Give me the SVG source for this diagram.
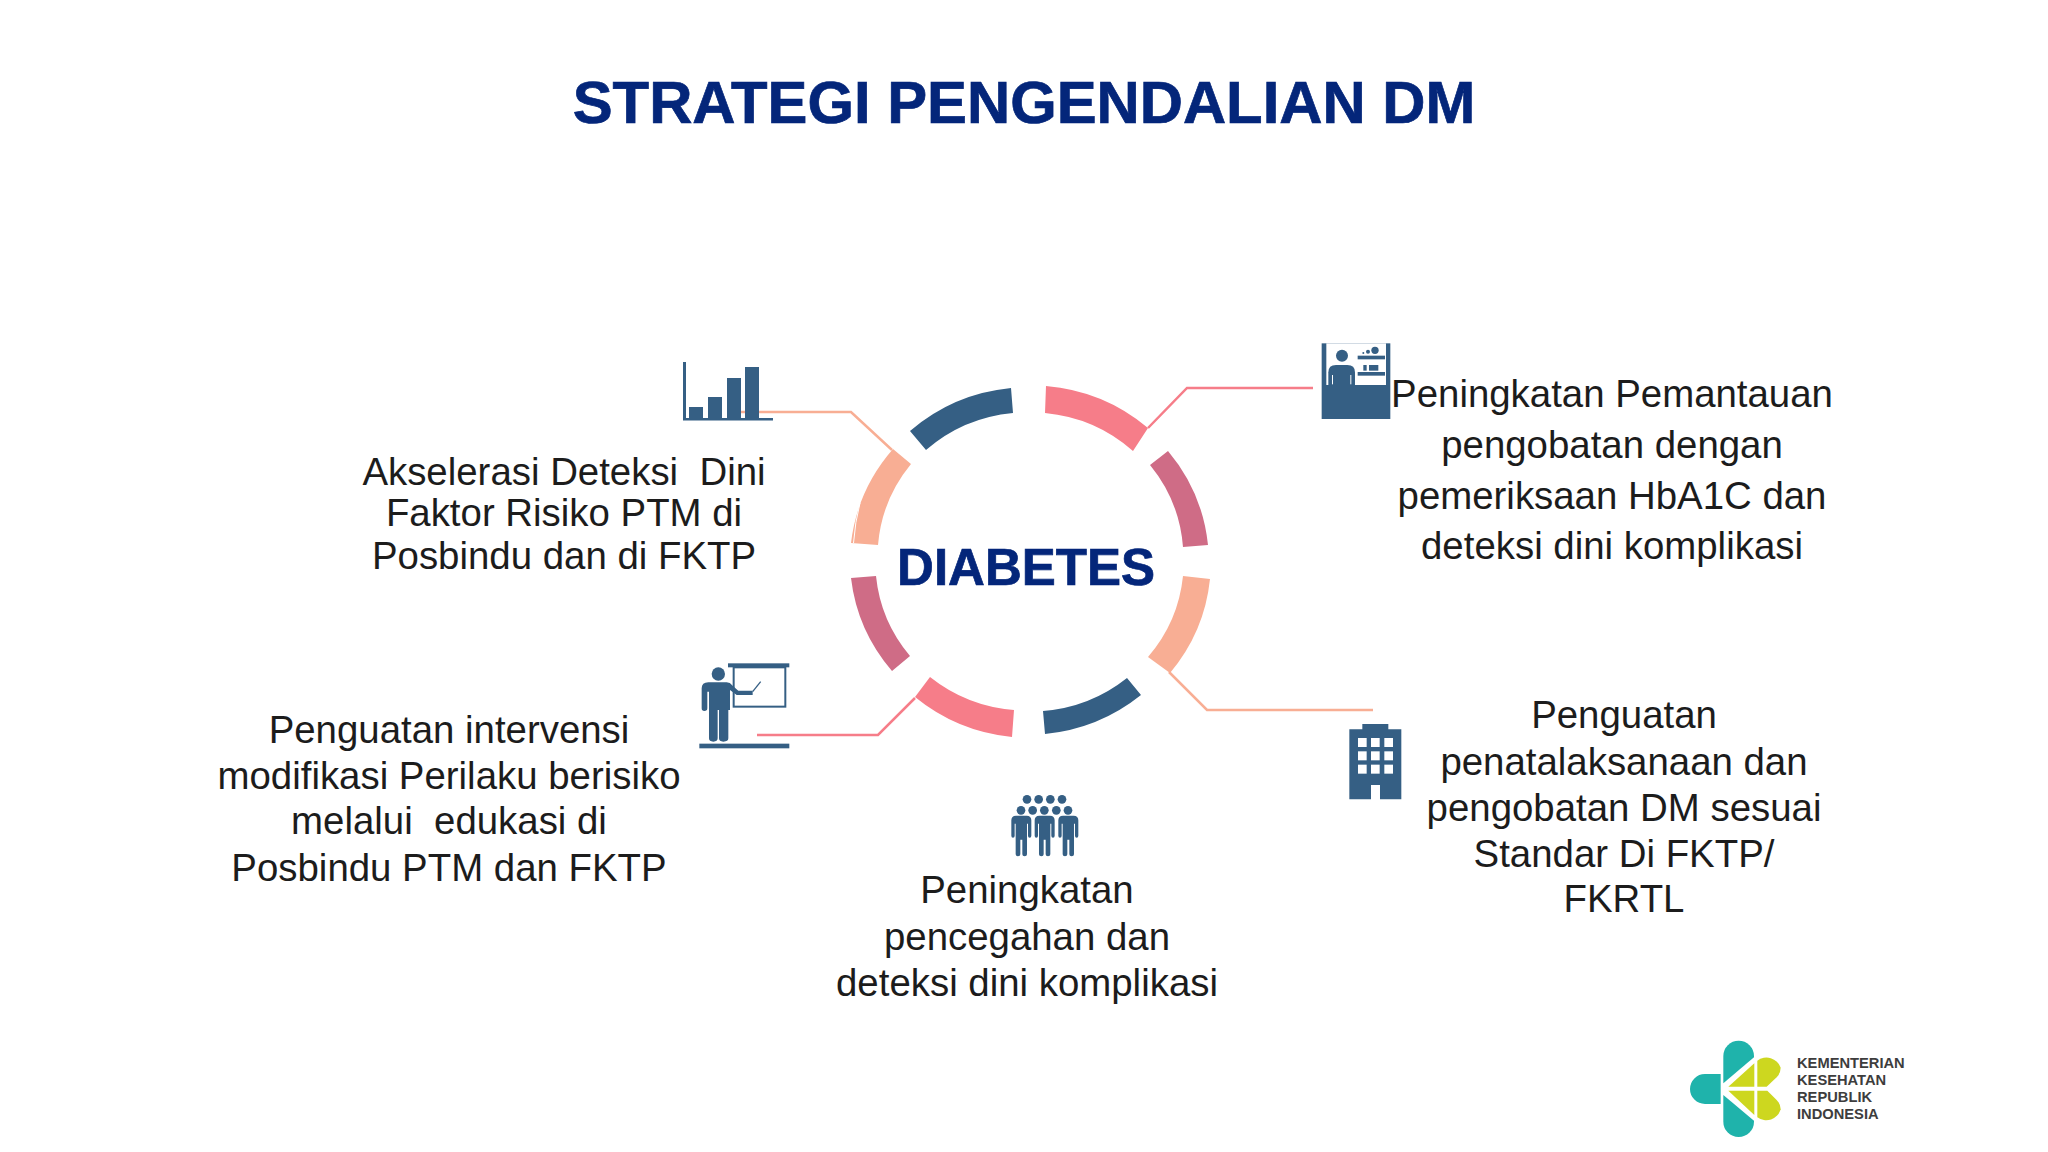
<svg xmlns="http://www.w3.org/2000/svg" width="2048" height="1152" viewBox="0 0 2048 1152">
<style>
.t{font-family:"Liberation Sans",Arial,sans-serif;font-size:38.4px;fill:#1c1c1c;text-anchor:middle;white-space:pre}
.h{font-family:"Liberation Sans",Arial,sans-serif;font-weight:700;fill:#04267a;stroke:#04267a;stroke-width:.7;text-anchor:middle}
.lg{font-family:"Liberation Sans",Arial,sans-serif;font-weight:700;font-size:14.7px;fill:#3d3d3d}
.c{fill:none;stroke-width:2.5;stroke-linejoin:miter}
.i{fill:#355f84}
.w{fill:#fff}
.navy{fill:#355f84}.pink{fill:#f67d89}.rose{fill:#cf6c86}.peach{fill:#f8ae94}
.teal{fill:#1fb3ab}.yel{fill:#cdd71f}
</style>
<defs>
<g id="man"><path d="M-30,30 Q-30,16 -16,16 H16 Q30,16 30,30 V76 Q30,82 25,82 Q20,82 20,76 V40 H17 V132 Q17,138 10,138 Q3,138 3,132 V88 H-3 V132 Q-3,138 -10,138 Q-17,138 -17,132 V40 H-20 V76 Q-20,82 -25,82 Q-30,82 -30,76 Z"/></g>
</defs>
<rect width="2048" height="1152" fill="#fff"/>
<text class="h" x="1024" y="123" font-size="59.8">STRATEGI PENGENDALIAN DM</text>

<g id="connectors">
<path class="c" stroke="#f8ae94" d="M740,412 H851 L892,450"/>
<path class="c" stroke="#f67d89" d="M1313,388 H1187 L1148,428"/>
<path class="c" stroke="#f8ae94" d="M1373,710 H1207 L1169,672"/>
<path class="c" stroke="#f67d89" d="M757,735 H878 L915,698"/>
</g>

<g id="node-ring">
<path class="navy" d="M910,431 A180,176 0 0 1 1011,388 L1013,413 A153,149 0 0 0 926,450 Z"/>
<path class="pink" d="M1046,386 A180,176 0 0 1 1148,428 L1133,451 A153,149 0 0 0 1045,413 Z"/>
<path class="rose" d="M1168,451 A180,176 0 0 1 1208,545 L1183,547 A153,149 0 0 0 1150,465 Z"/>
<path class="peach" d="M1210,579 A180,176 0 0 1 1170,673 L1148,657 A153,149 0 0 0 1183,576 Z"/>
<path class="navy" d="M1141,695 A180,176 0 0 1 1045,734 L1043,711 A153,149 0 0 0 1127,678 Z"/>
<path class="pink" d="M1012,737 A180,176 0 0 1 915,697 L930,677 A153,149 0 0 0 1014,710 Z"/>
<path class="rose" d="M892,671 A180,176 0 0 1 851,578 L876,576 A153,149 0 0 0 910,656 Z"/>
<path class="peach" d="M851,543 A180,176 0 0 1 893,449 L911,464 A153,149 0 0 0 878,545 Z"/>
<path d="M853.5,543 Q855,522 860,503" fill="none" stroke="#fff" stroke-width="1"/>
<text class="h" x="1026" y="585" font-size="51">DIABETES</text>
</g>

<g id="node-deteksi">
<g class="i">
<rect x="683" y="362" width="3" height="58"/><rect x="683" y="418" width="90" height="2.5"/>
<rect x="689" y="407" width="14" height="12"/><rect x="708" y="397" width="14" height="22"/>
<rect x="727" y="378" width="14" height="41"/><rect x="745" y="367" width="14" height="52"/>
</g>
<text class="t" x="564" y="485">Akselerasi Deteksi  Dini</text>
<text class="t" x="564" y="526">Faktor Risiko PTM di</text>
<text class="t" x="564" y="569">Posbindu dan di FKTP</text>
</g>

<g id="node-pemantauan">
<g transform="translate(1310,335) scale(.3333)">
<rect class="i" x="35" y="25" width="206" height="227"/>
<rect class="w" x="49" y="25" width="179" height="125"/>
<circle class="i" cx="96" cy="62" r="18"/>
<path class="i" d="M55,150 V112 Q55,90 78,90 H112 Q135,90 135,112 V150 Z"/>
<rect class="w" x="66" y="120" width="3" height="28"/><rect class="w" x="121" y="120" width="3" height="28"/>
<rect class="i" x="143" y="62" width="82" height="11"/><rect class="i" x="143" y="111" width="82" height="11"/>
<circle class="i" cx="195" cy="46" r="11"/><circle class="i" cx="174" cy="50" r="6"/><circle class="i" cx="160" cy="54" r="3"/>
<rect class="i" x="160" y="90" width="10" height="17"/><rect class="i" x="177" y="90" width="28" height="17"/>
</g>
<text class="t" x="1612" y="407">Peningkatan Pemantauan</text>
<text class="t" x="1612" y="458">pengobatan dengan</text>
<text class="t" x="1612" y="509">pemeriksaan HbA1C dan</text>
<text class="t" x="1612" y="559">deteksi dini komplikasi</text>
</g>

<g id="node-penatalaksanaan">
<g transform="translate(1340,700) scale(.3333)">
<path class="i" d="M28,88 H67 V72 H145 V88 H184 V298 H120 V255 H93 V298 H28 Z"/>
<g class="w">
<rect x="54" y="114" width="26" height="27"/><rect x="93" y="114" width="26" height="27"/><rect x="133" y="114" width="26" height="27"/>
<rect x="54" y="154" width="26" height="27"/><rect x="93" y="154" width="26" height="27"/><rect x="133" y="154" width="26" height="27"/>
<rect x="54" y="194" width="26" height="27"/><rect x="93" y="194" width="26" height="27"/><rect x="133" y="194" width="26" height="27"/>
</g>
</g>
<text class="t" x="1624" y="728">Penguatan</text>
<text class="t" x="1624" y="775">penatalaksanaan dan</text>
<text class="t" x="1624" y="821">pengobatan DM sesuai</text>
<text class="t" x="1624" y="867">Standar Di FKTP/</text>
<text class="t" x="1624" y="912">FKRTL</text>
</g>

<g id="node-pencegahan">
<g transform="translate(990,780) scale(.3333)" class="i">
<circle cx="111" cy="58" r="13"/><circle cx="146" cy="58" r="13"/><circle cx="181" cy="58" r="13"/><circle cx="216" cy="58" r="13"/>
<circle cx="93" cy="91" r="13"/><circle cx="128" cy="91" r="13"/><circle cx="163" cy="91" r="13"/><circle cx="199" cy="91" r="13"/><circle cx="234" cy="91" r="13"/>
<use href="#man" x="94" y="91"/><use href="#man" x="164" y="91"/><use href="#man" x="235" y="91"/>
</g>
<text class="t" x="1027" y="903">Peningkatan</text>
<text class="t" x="1027" y="950">pencegahan dan</text>
<text class="t" x="1027" y="996">deteksi dini komplikasi</text>
</g>

<g id="node-edukasi">
<g transform="translate(680,650) scale(.3333)">
<rect class="i" x="144" y="40" width="184" height="12"/>
<rect x="161" y="52" width="155" height="118" fill="none" stroke="#355f84" stroke-width="6"/>
<circle class="i" cx="115" cy="72" r="20"/>
<path class="i" d="M65,115 Q65,97 85,97 H140 Q150,97 158,107 L175,122 H218 V135 H170 L150,120 V180 H145 V265 Q145,275 130,275 Q117,275 117,265 V180 H113 V265 Q113,275 100,275 Q87,275 87,265 V125 H82 V175 Q82,183 73,183 Q65,183 65,175 Z"/>
<path d="M218,125 L242,95" stroke="#355f84" stroke-width="4" fill="none"/>
<rect class="i" x="58" y="281" width="270" height="14"/>
</g>
<text class="t" x="449" y="743">Penguatan intervensi</text>
<text class="t" x="449" y="789">modifikasi Perilaku berisiko</text>
<text class="t" x="449" y="834">melalui  edukasi di</text>
<text class="t" x="449" y="881">Posbindu PTM dan FKTP</text>
</g>

<g id="logo">
<g transform="translate(1660,1020) scale(.3333)">
<path class="teal" d="M190,190 V108 A46,46 0 0 1 282,108 V112 Z"/>
<path class="teal" d="M190,225 V305 A46,46 0 0 0 282,305 V302 Z"/>
<path class="teal" d="M182,162 H135 A45,45 0 0 0 135,252 H182 Z"/>
<path class="yel" d="M205,200 L283,130 V200 Z"/>
<path class="yel" d="M292,200 V122 A45,45 0 0 1 362,143 Q362,160 350,172 L320,200 Z"/>
<path class="yel" d="M205,212 H283 V285 Z"/>
<path class="yel" d="M292,212 H322 L350,240 Q362,252 362,268 A45,45 0 0 1 292,292 Z"/>
</g>
<text class="lg" x="1797" y="1068">KEMENTERIAN</text>
<text class="lg" x="1797" y="1085">KESEHATAN</text>
<text class="lg" x="1797" y="1102">REPUBLIK</text>
<text class="lg" x="1797" y="1119">INDONESIA</text>
</g>
</svg>
